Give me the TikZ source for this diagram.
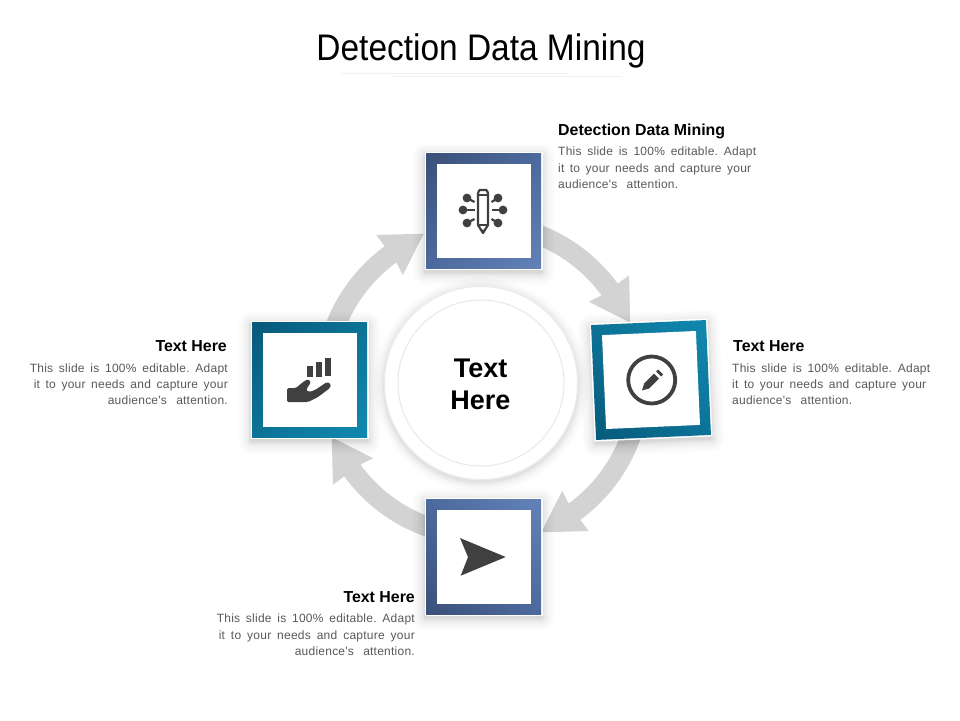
\documentclass[tikz,border=0pt]{standalone}
\usepackage{fontspec}
\setmainfont{Liberation Sans}
\newfontfamily\narrowfont[FakeStretch=0.904]{Liberation Sans}
\newfontfamily\bodyfont[LetterSpace=2]{Liberation Sans}
\usetikzlibrary{shadings}
\definecolor{ink}{HTML}{404040}
\definecolor{bandgrey}{HTML}{D3D3D3}
\definecolor{bluedark}{HTML}{3A5078}
\definecolor{bluemid}{HTML}{4D6A9E}
\definecolor{bluelight}{HTML}{6282B8}
\definecolor{tealdark}{HTML}{07597A}
\definecolor{tealmid}{HTML}{0C7397}
\definecolor{teallight}{HTML}{1289B0}
\definecolor{bodygrey}{HTML}{595959}
\tikzset{
  headtext/.style={font=\fontsize{15.9}{18}\selectfont\bfseries,text=black,inner sep=0pt},
  bodytext/.style={font=\bodyfont\fontsize{12}{16.3}\selectfont\frenchspacing,text=bodygrey,inner sep=0pt},
}
% band arrow: #1 centre x, #2 centre y, #3 quarter-turn offset
\newcommand{\bandarrow}[3]{%
  \fill[bandgrey,shift={(#1,#2)}]
    plot[domain=-80+#3:-36+#3,samples=30] ({169*cos(\x)},{169*sin(\x)})
    -- ({183*cos(-36+#3)},{183*sin(-36+#3)})
    -- ({161*cos(-22+#3)},{161*sin(-22+#3)})
    -- ({135*cos(-37+#3)},{135*sin(-37+#3)})
    -- plot[domain=-36+#3:-80+#3,samples=30] ({149*cos(\x)},{149*sin(\x)})
    -- cycle;}
% card: #1 cx, #2 cy, #3 rotation, #4-#7 corner colours
\newcommand{\card}[7]{%
  \begin{scope}[shift={(#1,#2)},rotate=#3]
    \foreach \s in {0.5,1,1.5,2,2.5,3,4,5,6,7.5,9,11,13}{\fill[black,opacity=0.012,rounded corners=\s pt] (-58-\s,-58-\s+3) rectangle (58+\s,58+\s+3);}
    \fill[white] (-59,-59) rectangle (59,59);
    \shade[upper left=#4,upper right=#5,lower left=#6,lower right=#7] (-57.5,-57.5) rectangle (57.5,57.5);
    \fill[white] (-47,-47) rectangle (47,47);
  \end{scope}}
\begin{document}
\begin{tikzpicture}[x=1pt,y=-1pt]
\useasboundingbox (0,0) rectangle (960,720);
\fill[white] (0,0) rectangle (960,720);

% title
\node[font=\narrowfont\fontsize{37}{42}\selectfont,text=black,inner sep=0pt,anchor=base] (title) at (481,60) {Detection Data Mining};
\coordinate (ruleAa) at (340,73); \coordinate (ruleAb) at (567,73);
\coordinate (ruleBa) at (393,76); \coordinate (ruleBb) at (622,76);
\draw[black!5,line width=0.8pt] (ruleAa) -- (ruleAb);
\draw[black!5,line width=0.8pt] (ruleBa) -- (ruleBb);

% band arrows
\bandarrow{481}{383}{0}
\bandarrow{481}{383}{90}
\bandarrow{481}{377}{180}
\bandarrow{484}{383}{270}

% centre circles
\foreach \s in {0.5,1,1.5,2,3,4,5,6,8,10}{\fill[black,opacity=0.012] (481,385) circle ({97+\s});}
\fill[white] (481,383) circle (97);
\draw[black!8,line width=1pt] (481,383) circle (96.5);
\draw[black!9,line width=1pt] (481,383) circle (83);
\node[font=\fontsize{27}{32}\selectfont\bfseries,align=center,inner sep=0pt,text=black] (centre) at (480.5,384) {Text\\Here};

% cards
\card{483.5}{211}{0}{bluedark}{bluemid}{bluemid}{bluelight}
\card{651}{380}{2.5}{tealmid}{teallight}{tealdark}{tealmid}
\card{483.5}{556.5}{0}{bluemid}{bluelight}{bluedark}{bluemid}
\card{309.5}{380}{0}{tealdark}{tealmid}{tealmid}{teallight}

% icon 1: pencil with nodes
\draw[ink,line width=2.2pt,line join=round] (478,193) to[out=-90,in=180] (480,190) -- (486,190) to[out=0,in=-90] (488,193) -- (488,225) -- (483,233) -- (478,225) -- cycle;
\draw[ink,line width=1.4pt] (478,195) -- (488,195);
\draw[ink,line width=1.4pt] (478,225) -- (488,225);
\fill[ink] (481,229.5) -- (485,229.5) -- (483,233.5) -- cycle;
\foreach \a/\b/\c/\d in {467/198/474.5/202, 463/210/474.5/210, 467/223/474.5/219, 498/198/491.5/202, 503/210/491.5/210, 498/223/491.5/219}{
  \fill[ink] (\a,\b) circle (4.4);
  \draw[ink,line width=2.2pt] (\a,\b) -- (\c,\d);
}

% icon 2: circle with pencil
\draw[ink,line width=3.8pt] (651.7,380) circle (23.5);
\fill[ink] (642,390.5) -- (644.2,383.5) -- (654,373.7) -- (659,378.7) -- (649.2,388.5) -- cycle;
\fill[ink] (656,371.5) -- (658,369.5) -- (663,374.5) -- (661,376.5) -- cycle;

% icon 3: hand with bars
\fill[ink] (307,366) rectangle (313,377);
\fill[ink] (316,362) rectangle (322,377);
\fill[ink] (325,358) rectangle (331,376);
\fill[ink,rounded corners=1.5pt] (287,388) -- (296,388) -- (303,382) -- (308,379) -- (311,382) -- (306,390) -- (309,392) -- (315,390) -- (327,382) -- (331,384) -- (330,388) -- (318,397) -- (308,402) -- (296,402) -- (287,402) -- cycle;

% icon 4: arrowhead
\fill[ink] (460,538) -- (505.7,557) -- (460.7,575.7) -- (468,557) -- cycle;

% label: top
\node[headtext,anchor=base west] (headA) at (558,135) {Detection Data Mining};
\node[bodytext,anchor=base west] (lineA1) at (558,155.5) {\makebox[198pt][s]{This slide is 100\% editable. Adapt}};
\node[bodytext,anchor=base west] (lineA2) at (558,172) {\makebox[193pt][s]{it to your needs and capture your}};
\node[bodytext,anchor=base west] (lineA3) at (558,188) {\makebox[120pt][s]{audience's attention.}};

% label: right
\node[headtext,anchor=base west] (headB) at (733,351) {Text Here};
\node[bodytext,anchor=base west] (lineB1) at (732,372) {\makebox[198pt][s]{This slide is 100\% editable. Adapt}};
\node[bodytext,anchor=base west] (lineB2) at (732,388.5) {\makebox[194pt][s]{it to your needs and capture your}};
\node[bodytext,anchor=base west] (lineB3) at (732,404.5) {\makebox[120pt][s]{audience's attention.}};

% label: left
\node[headtext,anchor=base east] (headC) at (227,351) {Text Here};
\node[bodytext,anchor=base east] (lineC1) at (228,372) {\makebox[198pt][s]{This slide is 100\% editable. Adapt}};
\node[bodytext,anchor=base east] (lineC2) at (228,388.5) {\makebox[194pt][s]{it to your needs and capture your}};
\node[bodytext,anchor=base east] (lineC3) at (228,404.5) {\makebox[120pt][s]{audience's attention.}};

% label: bottom
\node[headtext,anchor=base east] (headD) at (415,602) {Text Here};
\node[bodytext,anchor=base east] (lineD1) at (415,622.5) {\makebox[198pt][s]{This slide is 100\% editable. Adapt}};
\node[bodytext,anchor=base east] (lineD2) at (415,639) {\makebox[196pt][s]{it to your needs and capture your}};
\node[bodytext,anchor=base east] (lineD3) at (415,655) {\makebox[120pt][s]{audience's attention.}};
\end{tikzpicture}
\end{document}
